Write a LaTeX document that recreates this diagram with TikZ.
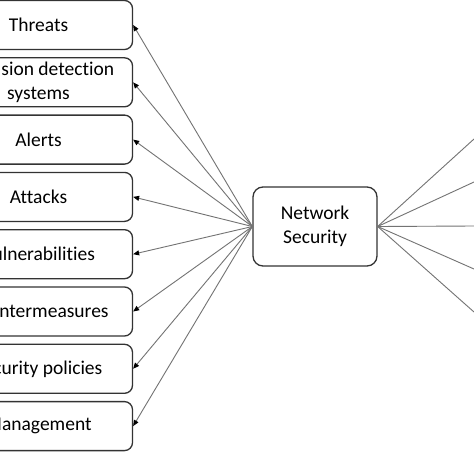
\documentclass[tikz,border=0pt]{standalone}
\usepackage{fontspec}
\setmainfont[Ligatures={NoCommon}]{Carlito}
\usetikzlibrary{arrows.meta}
\begin{document}
\begin{tikzpicture}[x=1pt,y=-1pt,
  txt/.style={font=\fontsize{19.5}{24}\selectfont, text=black},
  leftbox/.style={txt, draw=black!80, line width=1.3pt, rounded corners=8pt,
    minimum width=188pt, minimum height=49pt, align=center, inner sep=0pt},
  centerbox/.style={txt, draw=black!80, line width=1.3pt, rounded corners=10pt,
    minimum width=124pt, minimum height=79pt, align=center, inner sep=0pt},
  link/.style={draw=black!55, line width=0.9pt},
  arrowlink/.style={link, -{Triangle[length=6pt,width=5pt,color=black]}}]
\useasboundingbox (0,0) rectangle (474,474);
\clip (0,0) rectangle (474,474);
\fill[white] (0,0) rectangle (474,474);
\node[centerbox] (ns) at (315,226.5) {Network\\Security};
\node[leftbox] (b1) at (38.5,25) {Threats};
\node[leftbox] (b2) at (38.5,82.3) {Intrusion detection\\systems};
\node[leftbox] (b3) at (38.5,139.6) {Alerts};
\node[leftbox] (b4) at (38.5,196.9) {Attacks};
\node[leftbox] (b5) at (38.5,254.2) {Vulnerabilities};
\node[leftbox] (b6) at (38.5,311.5) {Countermeasures};
\node[leftbox] (b7) at (38.5,368.8) {Security policies};
\node[leftbox] (b8) at (38.5,426.1) {Management};
\foreach \i in {1,...,8} {\draw[arrowlink] (ns.west) -- (b\i.east);}
\coordinate (r1) at (474,139);
\coordinate (r2) at (474,182);
\coordinate (r3) at (474,226);
\coordinate (r4) at (474,269);
\coordinate (r5) at (474,312);
\foreach \i in {1,...,5} {\draw[link] (ns.east) -- (r\i);}
\end{tikzpicture}
\end{document}
